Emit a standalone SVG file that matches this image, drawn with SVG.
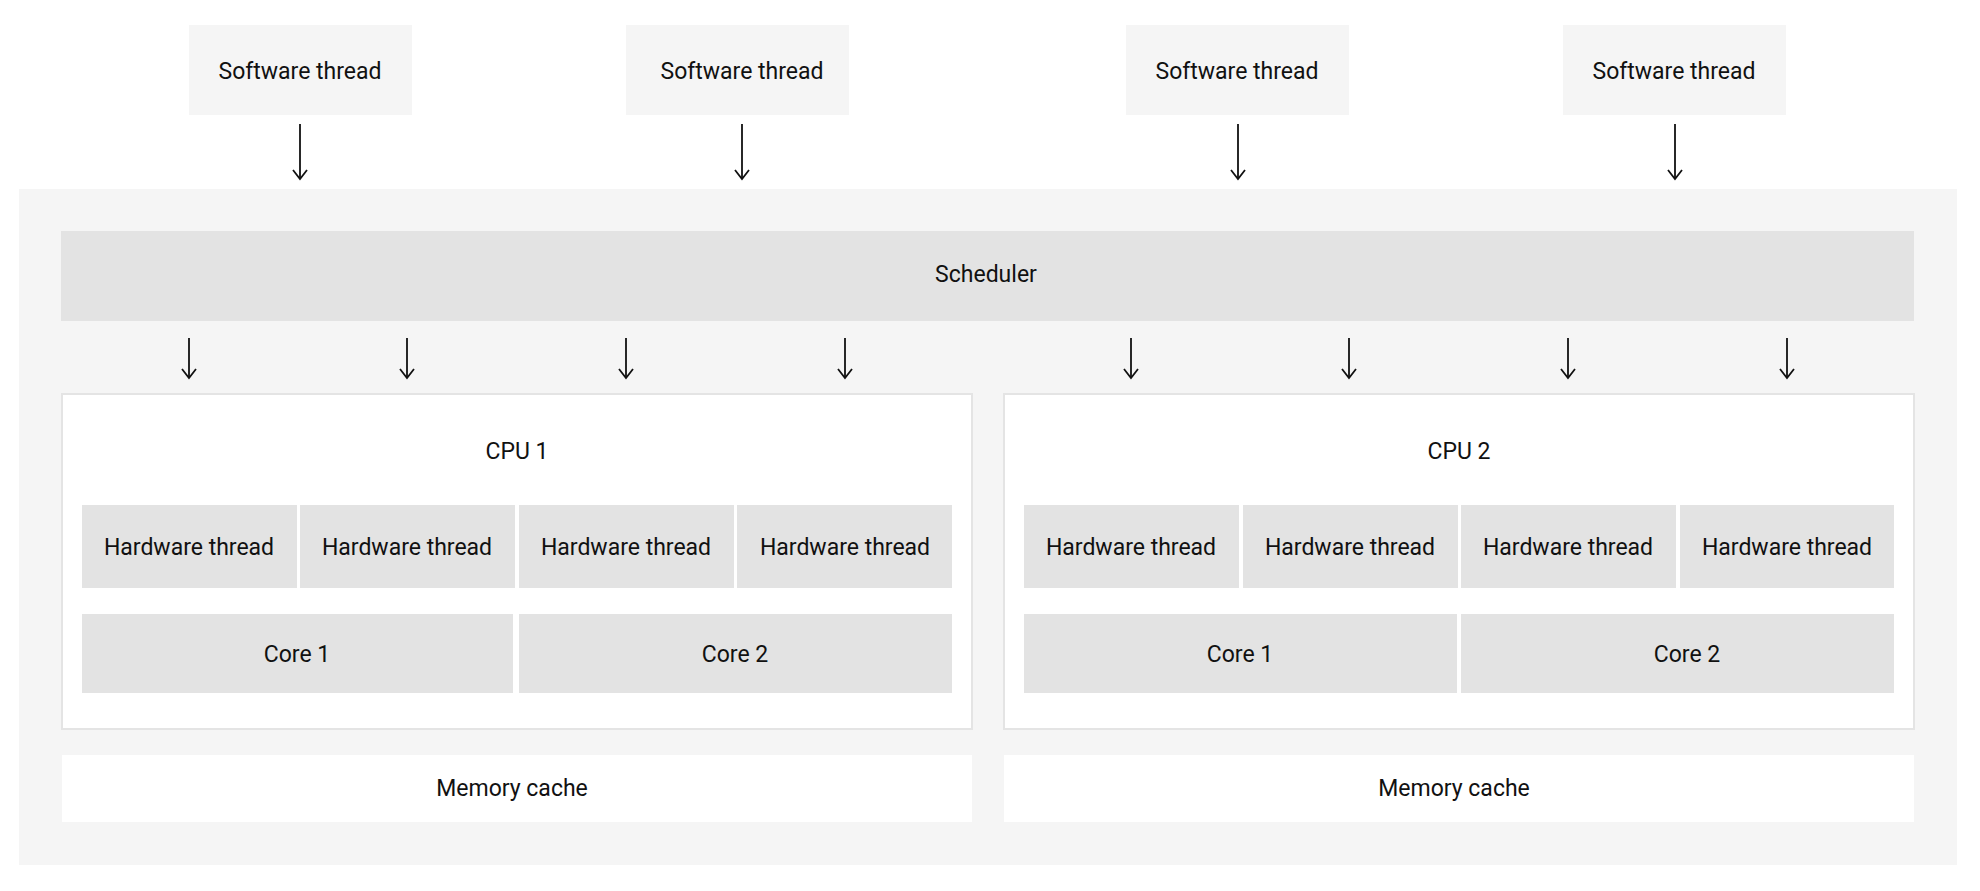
<svg xmlns="http://www.w3.org/2000/svg" width="1980" height="891" viewBox="0 0 1980 891">
<style>
text{font-family:Roboto,"Liberation Sans",sans-serif;font-size:23px;fill:#111;text-anchor:middle;dominant-baseline:central}
.sw{fill:#f5f5f5}.g{fill:#e3e3e3}.w{fill:#fff}
.cpu{fill:#fff;stroke:#e4e4e4;stroke-width:2}
.c line{stroke:#111;stroke-width:1.8}
.c path{fill:none;stroke:#111;stroke-width:1.8}
</style>
<rect width="1980" height="891" fill="#fff"/>
<rect x="19" y="189" width="1938" height="676" fill="#f5f5f5"/>
<g id="sw1"><rect class="sw" x="189" y="25" width="223" height="90"/><text x="300" y="71">Software thread</text></g>
<g id="sw2"><rect class="sw" x="626" y="25" width="223" height="90"/><text x="742" y="71">Software thread</text></g>
<g id="sw3"><rect class="sw" x="1126" y="25" width="223" height="90"/><text x="1237" y="71">Software thread</text></g>
<g id="sw4"><rect class="sw" x="1563" y="25" width="223" height="90"/><text x="1674" y="71">Software thread</text></g>
<g id="scheduler"><rect class="g" x="61" y="231" width="1853" height="90"/><text x="986" y="274">Scheduler</text></g>
<g id="cpu1"><rect class="cpu" x="62" y="394" width="910" height="335"/><text x="517" y="451">CPU 1</text>
<rect class="g" x="82" y="505" width="215" height="83"/><text x="189" y="547">Hardware thread</text>
<rect class="g" x="300" y="505" width="215" height="83"/><text x="407" y="547">Hardware thread</text>
<rect class="g" x="519" y="505" width="215" height="83"/><text x="626" y="547">Hardware thread</text>
<rect class="g" x="737" y="505" width="215" height="83"/><text x="845" y="547">Hardware thread</text>
<rect class="g" x="82" y="614" width="431" height="79"/><text x="297" y="654">Core 1</text>
<rect class="g" x="519" y="614" width="433" height="79"/><text x="735" y="654">Core 2</text></g>
<g id="cpu2"><rect class="cpu" x="1004" y="394" width="910" height="335"/><text x="1459" y="451">CPU 2</text>
<rect class="g" x="1024" y="505" width="215" height="83"/><text x="1131" y="547">Hardware thread</text>
<rect class="g" x="1243" y="505" width="215" height="83"/><text x="1350" y="547">Hardware thread</text>
<rect class="g" x="1461" y="505" width="215" height="83"/><text x="1568" y="547">Hardware thread</text>
<rect class="g" x="1680" y="505" width="214" height="83"/><text x="1787" y="547">Hardware thread</text>
<rect class="g" x="1024" y="614" width="433" height="79"/><text x="1240" y="654">Core 1</text>
<rect class="g" x="1461" y="614" width="433" height="79"/><text x="1687" y="654">Core 2</text></g>
<g id="mem1"><rect class="w" x="62" y="755" width="910" height="67"/><text x="512" y="788">Memory cache</text></g>
<g id="mem2"><rect class="w" x="1004" y="755" width="910" height="67"/><text x="1454" y="788">Memory cache</text></g>
<g id="connectors" class="c">
<line x1="300" y1="124" x2="300" y2="179"/><path d="M293,170 L300,179 L307,170"/>
<line x1="742" y1="124" x2="742" y2="179"/><path d="M735,170 L742,179 L749,170"/>
<line x1="1238" y1="124" x2="1238" y2="179"/><path d="M1231,170 L1238,179 L1245,170"/>
<line x1="1675" y1="124" x2="1675" y2="179"/><path d="M1668,170 L1675,179 L1682,170"/>
<line x1="189" y1="338" x2="189" y2="378"/><path d="M182,369 L189,378 L196,369"/>
<line x1="407" y1="338" x2="407" y2="378"/><path d="M400,369 L407,378 L414,369"/>
<line x1="626" y1="338" x2="626" y2="378"/><path d="M619,369 L626,378 L633,369"/>
<line x1="845" y1="338" x2="845" y2="378"/><path d="M838,369 L845,378 L852,369"/>
<line x1="1131" y1="338" x2="1131" y2="378"/><path d="M1124,369 L1131,378 L1138,369"/>
<line x1="1349" y1="338" x2="1349" y2="378"/><path d="M1342,369 L1349,378 L1356,369"/>
<line x1="1568" y1="338" x2="1568" y2="378"/><path d="M1561,369 L1568,378 L1575,369"/>
<line x1="1787" y1="338" x2="1787" y2="378"/><path d="M1780,369 L1787,378 L1794,369"/>
</g>
</svg>
